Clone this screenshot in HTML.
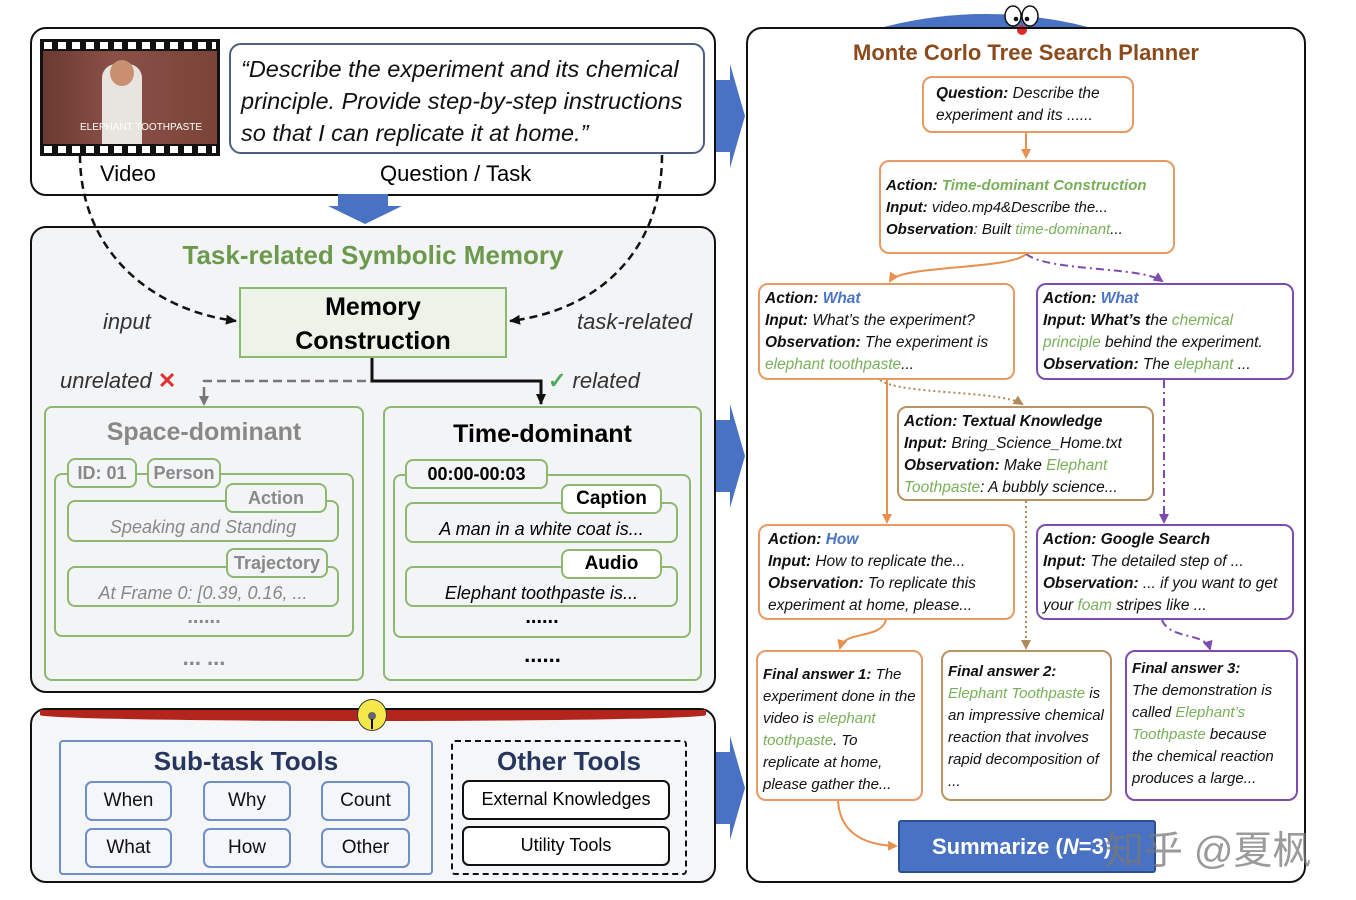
<!DOCTYPE html>
<html><head><meta charset="utf-8"><style>
body{margin:0;width:1356px;height:900px;background:#fff;position:relative;overflow:hidden;font-family:"Liberation Sans",sans-serif}
.a{position:absolute;box-sizing:border-box}
.pan{border:2.5px solid #111;border-radius:16px}
.g{border:2.5px solid #8db86f;border-radius:8px}
.tn{font-size:15.5px;font-style:italic;line-height:22px;padding:3px 5px;border-radius:10px;border:2px solid;background:#fff;color:#111;white-space:normal}
.tn b{font-weight:bold}
.o{border-color:#e89a62}.p{border-color:#7e4cae}.br{border-color:#b89464}
.gr{color:#78b05a}.bl{color:#4a74c4;font-weight:bold}
.btn{border:2px solid #6f8fc7;border-radius:7px;background:#f4f6fb;font-size:19px;text-align:center;line-height:36px;color:#111}
.ob{border:2px solid #111;border-radius:7px;background:#fff;font-size:19px;text-align:center;line-height:35px}
.gl{color:#888}
</style></head><body>
<!-- top-left panel -->
<div class="a pan" style="left:30px;top:27px;width:686px;height:169px"></div>
<div class="a" style="left:40px;top:39px;width:180px;height:117px;background:#111"></div>
<div class="a" style="left:43px;top:51px;width:174px;height:93px;background:linear-gradient(90deg,#6a3a30,#8a5048 40%,#7a4438)"></div>
<div class="a" style="left:44px;top:42px;width:172px;height:7px;background:repeating-linear-gradient(90deg,#fff 0 8px,#111 8px 14px)"></div>
<div class="a" style="left:44px;top:146px;width:172px;height:7px;background:repeating-linear-gradient(90deg,#fff 0 8px,#111 8px 14px)"></div>
<div class="a" style="left:102px;top:64px;width:40px;height:80px;background:#e8e4e0;border-radius:14px 14px 0 0"></div>
<div class="a" style="left:110px;top:60px;width:24px;height:26px;background:#c89070;border-radius:50%"></div>
<div class="a" style="left:80px;top:122px;font-size:10px;color:#fff">ELEPHANT TOOTHPASTE</div>
<div class="a" style="left:229px;top:43px;width:476px;height:111px;border:2px solid #4d5f80;border-radius:12px;font-style:italic;font-size:23.5px;line-height:32px;padding:8px 10px;color:#111">“Describe the experiment and its chemical principle. Provide step-by-step instructions so that I can replicate it at home.”</div>
<div class="a" style="left:100px;top:161px;font-size:22px">Video</div>
<div class="a" style="left:380px;top:161px;font-size:22px">Question / Task</div>
<!-- down arrow -->
<svg class="a" style="left:320px;top:194px" width="86" height="32"><path d="M18 0h50v12h14l-37 18-37-18h10z" fill="#4a72c4"/></svg>
<!-- middle panel -->
<div class="a pan" style="left:30px;top:226px;width:686px;height:467px;background:#f3f4f6"></div>
<div class="a" style="left:30px;top:240px;width:686px;text-align:center;font-size:26px;font-weight:bold;color:#6c9a4c">Task-related Symbolic Memory</div>
<div class="a" style="left:239px;top:287px;width:268px;height:71px;border:2.5px solid #8db86f;background:#eef3e8;text-align:center;font-size:25px;font-weight:bold;line-height:34px;padding-top:1px">Memory<br>Construction</div>
<div class="a" style="left:103px;top:309px;font-size:22px;font-style:italic;color:#333">input</div>
<div class="a" style="left:577px;top:309px;font-size:22px;font-style:italic;color:#333">task-related</div>
<div class="a" style="left:60px;top:368px;font-size:22px;font-style:italic;color:#333">unrelated <span style="color:#e03030;font-style:normal;font-weight:bold">✕</span></div>
<div class="a" style="left:548px;top:368px;font-size:22px;font-style:italic;color:#333"><span style="color:#4caa5a;font-style:normal;font-weight:bold">✓</span> related</div>
<svg class="a" style="left:0;top:0" width="1356" height="900">
<defs><marker id="m" markerUnits="userSpaceOnUse" markerWidth="12" markerHeight="12" refX="10" refY="6" orient="auto"><path d="M0 1L11 6L0 11z" fill="#111"/></marker>
<marker id="mg" markerUnits="userSpaceOnUse" markerWidth="10" markerHeight="10" refX="8" refY="5" orient="auto"><path d="M0 0L10 5L0 10z" fill="#777"/></marker>
<marker id="mo" markerUnits="userSpaceOnUse" markerWidth="10" markerHeight="10" refX="8" refY="5" orient="auto"><path d="M0 0L10 5L0 10z" fill="#e8904e"/></marker>
<marker id="mp" markerUnits="userSpaceOnUse" markerWidth="10" markerHeight="10" refX="8" refY="5" orient="auto"><path d="M0 0L10 5L0 10z" fill="#7e4cae"/></marker>
<marker id="mb" markerUnits="userSpaceOnUse" markerWidth="10" markerHeight="10" refX="8" refY="5" orient="auto"><path d="M0 0L10 5L0 10z" fill="#b08a5a"/></marker></defs>
<path d="M80 155 C 80 250,150 310,236 321" stroke="#111" stroke-width="2.5" fill="none" stroke-dasharray="8 5" marker-end="url(#m)"/>
<path d="M662 155 C 662 250,600 310,510 321" stroke="#111" stroke-width="2.5" fill="none" stroke-dasharray="8 5" marker-end="url(#m)"/>
<path d="M372 358V381H541V404" stroke="#111" stroke-width="3" fill="none" marker-end="url(#m)"/>
<path d="M366 381H204V404" stroke="#777" stroke-width="2.5" fill="none" stroke-dasharray="9 5" marker-end="url(#mg)"/>
<!-- tree connectors -->
<path d="M1026 133V157" stroke="#e8904e" stroke-width="2" marker-end="url(#mo)"/>
<path d="M1026 254C1010 270,900 265,890 281" stroke="#e8904e" stroke-width="2" fill="none" marker-end="url(#mo)"/>
<path d="M1026 254C1050 272,1140 266,1162 281" stroke="#7e4cae" stroke-width="2" fill="none" stroke-dasharray="8 4 2 4" marker-end="url(#mp)"/>
<path d="M887 380V522" stroke="#e8904e" stroke-width="2" marker-end="url(#mo)"/>
<path d="M880 380C900 395,1000 390,1022 404" stroke="#b08a5a" stroke-width="2" fill="none" stroke-dasharray="2 3" marker-end="url(#mb)"/>
<path d="M1164 380V522" stroke="#7e4cae" stroke-width="2" stroke-dasharray="8 4 2 4" marker-end="url(#mp)"/>
<path d="M1026 501V648" stroke="#b08a5a" stroke-width="2" stroke-dasharray="2 3" marker-end="url(#mb)"/>
<path d="M886 620C880 640,845 630,840 648" stroke="#e8904e" stroke-width="2" fill="none" marker-end="url(#mo)"/>
<path d="M1162 620C1170 640,1205 632,1210 649" stroke="#7e4cae" stroke-width="2" fill="none" stroke-dasharray="8 4 2 4" marker-end="url(#mp)"/>
<path d="M838 801C840 830,860 845,896 846" stroke="#e8904e" stroke-width="2" fill="none" marker-end="url(#mo)"/>
<!-- right arrows -->
<path d="M716 80h14v-16l15 52-15 52v-16h-14z" fill="#4a72c4"/>
<path d="M716 420h14v-16l15 52-15 52v-16h-14z" fill="#4a72c4"/>
<path d="M716 752h14v-16l15 52-15 52v-16h-14z" fill="#4a72c4"/>
<!-- dome -->
<path d="M880 28Q985 0 1092 28z" fill="#4a72c4"/>
<ellipse cx="1013" cy="16" rx="8" ry="10" fill="#fff" stroke="#111" stroke-width="1.5"/>
<ellipse cx="1030" cy="16" rx="8" ry="10" fill="#fff" stroke="#111" stroke-width="1.5"/>
<circle cx="1016" cy="19" r="2.3" fill="#111"/><circle cx="1027" cy="19" r="2.3" fill="#111"/>
<circle cx="1022" cy="30" r="5" fill="#e02a2a"/>
</svg>
<!-- space / time boxes -->
<div class="a g" style="left:44px;top:406px;width:320px;height:275px"></div>
<div class="a" style="left:44px;top:418px;width:320px;text-align:center;font-size:25px;font-weight:bold;color:#888">Space-dominant</div>
<div class="a g" style="left:54px;top:473px;width:300px;height:164px;border-width:2px"></div>
<div class="a g gl" style="left:67px;top:458px;width:70px;height:30px;border-width:2px;background:#f3f4f6;font-size:18px;font-weight:bold;text-align:center;line-height:26px">ID: 01</div>
<div class="a g gl" style="left:147px;top:458px;width:74px;height:30px;border-width:2px;background:#f3f4f6;font-size:18px;font-weight:bold;text-align:center;line-height:26px">Person</div>
<div class="a g gl" style="left:67px;top:500px;width:272px;height:42px;border-width:2px;font-size:18px;font-style:italic;text-align:center;padding-top:15px">Speaking and Standing</div>
<div class="a g gl" style="left:225px;top:483px;width:102px;height:30px;border-width:2px;background:#f3f4f6;font-size:18px;font-weight:bold;text-align:center;line-height:26px">Action</div>
<div class="a g gl" style="left:67px;top:566px;width:272px;height:41px;border-width:2px;font-size:18px;font-style:italic;text-align:center;padding-top:15px">At Frame 0: [0.39, 0.16, ...</div>
<div class="a g gl" style="left:226px;top:548px;width:102px;height:30px;border-width:2px;background:#f3f4f6;font-size:18px;font-weight:bold;text-align:center;line-height:26px">Trajectory</div>
<div class="a gl" style="left:54px;top:606px;width:300px;text-align:center;font-size:20px;font-weight:bold">......</div>
<div class="a gl" style="left:44px;top:645px;width:320px;text-align:center;font-size:22px;font-weight:bold">... ...</div>

<div class="a g" style="left:383px;top:406px;width:319px;height:275px"></div>
<div class="a" style="left:383px;top:420px;width:319px;text-align:center;font-size:25px;font-weight:bold">Time-dominant</div>
<div class="a g" style="left:393px;top:474px;width:298px;height:164px;border-width:2px"></div>
<div class="a g" style="left:405px;top:502px;width:273px;height:41px;border-width:2px;font-size:18px;font-style:italic;text-align:center;padding-top:15px">A man in a white coat is...</div>
<div class="a g" style="left:405px;top:459px;width:143px;height:30px;border-width:2px;background:#f3f4f6;font-size:18px;font-weight:bold;text-align:center;line-height:26px">00:00-00:03</div>
<div class="a g" style="left:561px;top:484px;width:101px;height:30px;border-width:2px;background:#fff;font-size:19px;font-weight:bold;text-align:center;line-height:26px">Caption</div>
<div class="a g" style="left:405px;top:566px;width:273px;height:41px;border-width:2px;font-size:18px;font-style:italic;text-align:center;padding-top:15px">Elephant toothpaste is...</div>
<div class="a g" style="left:561px;top:549px;width:101px;height:30px;border-width:2px;background:#fff;font-size:19px;font-weight:bold;text-align:center;line-height:26px">Audio</div>
<div class="a" style="left:393px;top:606px;width:298px;text-align:center;font-size:20px;font-weight:bold">......</div>
<div class="a" style="left:383px;top:642px;width:319px;text-align:center;font-size:22px;font-weight:bold">......</div>

<!-- bottom-left -->
<div class="a pan" style="left:30px;top:708px;width:686px;height:175px;background:#f5f6f8"></div>
<div class="a" style="left:40px;top:710px;width:666px;height:11px;background:#b3251c;border-radius:0 0 50% 50%/0 0 6px 6px"></div>
<div class="a" style="left:357px;top:699px;width:30px;height:32px;border-radius:50%;background:#f6e84a;border:1.5px solid #333"></div>
<div class="a" style="left:368px;top:712px;width:8px;height:8px;border-radius:50%;background:#666"></div>
<div class="a" style="left:371px;top:719px;width:2px;height:10px;background:#111"></div>
<div class="a" style="left:59px;top:740px;width:374px;height:135px;border:2.5px solid #6f8fc7;border-radius:4px"></div>
<div class="a" style="left:59px;top:746px;width:374px;text-align:center;font-size:26px;font-weight:bold;color:#26365e">Sub-task Tools</div>
<div class="a btn" style="left:85px;top:781px;width:87px;height:40px">When</div>
<div class="a btn" style="left:203px;top:781px;width:88px;height:40px">Why</div>
<div class="a btn" style="left:321px;top:781px;width:89px;height:40px">Count</div>
<div class="a btn" style="left:85px;top:828px;width:87px;height:40px">What</div>
<div class="a btn" style="left:203px;top:828px;width:88px;height:40px">How</div>
<div class="a btn" style="left:321px;top:828px;width:89px;height:40px">Other</div>
<div class="a" style="left:451px;top:740px;width:236px;height:135px;border:2.5px dashed #111;border-radius:4px"></div>
<div class="a" style="left:451px;top:746px;width:236px;text-align:center;font-size:26px;font-weight:bold;color:#26365e">Other Tools</div>
<div class="a ob" style="left:462px;top:780px;width:208px;height:40px;font-size:18px">External Knowledges</div>
<div class="a ob" style="left:462px;top:826px;width:208px;height:40px;font-size:18px">Utility Tools</div>

<!-- right panel -->
<div class="a pan" style="left:746px;top:27px;width:560px;height:856px"></div>
<div class="a" style="left:746px;top:40px;width:560px;text-align:center;font-size:22px;font-weight:bold;color:#8a4a1c">Monte Corlo Tree Search Planner</div>
<div class="a tn o" style="left:922px;top:76px;width:212px;height:57px;padding:5px 12px"><b>Question:</b> Describe the experiment and its ......</div>
<div class="a tn o" style="left:879px;top:160px;width:296px;height:94px;padding-top:13px;font-size:15px"><b>Action: <span class="gr">Time-dominant Construction</span></b><br><b>Input:</b> video.mp4&amp;Describe the...<br><b>Observation</b>: Built <span class="gr">time-dominant</span>...</div>
<div class="a tn o" style="left:758px;top:283px;width:257px;height:97px;padding-top:3px"><b>Action: <span class="bl">What</span></b><br><b>Input:</b> What’s the experiment?<br><b>Observation:</b> The experiment is <span class="gr">elephant toothpaste</span>...</div>
<div class="a tn p" style="left:1036px;top:283px;width:258px;height:97px;padding-top:3px"><b>Action: <span class="bl">What</span></b><br><b>Input: What’s t</b>he <span class="gr">chemical principle</span> behind the experiment.<br><b>Observation:</b> The <span class="gr">elephant</span> ...</div>
<div class="a tn br" style="left:897px;top:406px;width:257px;height:95px;padding-top:3px"><b>Action: Textual Knowledge</b><br><b>Input:</b> Bring_Science_Home.txt<br><b>Observation:</b> Make <span class="gr">Elephant Toothpaste</span>: A bubbly science...</div>
<div class="a tn o" style="left:758px;top:524px;width:257px;height:96px;padding-top:3px;padding-left:8px"><b>Action: <span class="bl">How</span></b><br><b>Input:</b> How to replicate the...<br><b>Observation:</b> To replicate this experiment at home, please...</div>
<div class="a tn p" style="left:1036px;top:524px;width:258px;height:96px;padding-top:3px"><b>Action: Google Search</b><br><b>Input:</b> The detailed step of ...<br><b>Observation:</b> ... if you want to get your <span class="gr">foam</span> stripes like ...</div>
<div class="a tn o" style="left:756px;top:650px;width:167px;height:151px;padding-top:12px;font-size:15px"><b>Final answer 1:</b> The experiment done in the video is <span class="gr">elephant toothpaste</span>. To replicate at home, please gather the...</div>
<div class="a tn br" style="left:941px;top:650px;width:171px;height:151px;padding-top:9px;font-size:15px"><b>Final answer 2:</b><br><span class="gr">Elephant Toothpaste</span> is an impressive chemical reaction that involves rapid decomposition of ...</div>
<div class="a tn p" style="left:1125px;top:650px;width:173px;height:151px;padding-top:6px;font-size:15px"><b>Final answer 3:</b><br>The demonstration is called <span class="gr">Elephant’s Toothpaste</span> because the chemical reaction produces a large...</div>
<div class="a" style="left:898px;top:820px;width:258px;height:53px;background:#4a72c4;border:2px solid #2d4f94;border-radius:3px;color:#fff;font-size:22px;font-weight:bold;line-height:49px;padding-left:32px">Summarize (<i>N</i>=3)</div>
<div class="a" style="left:1105px;top:820px;font-size:39px;color:rgba(120,120,120,0.75);font-family:'Liberation Sans','Noto Sans CJK SC',sans-serif">知乎 @夏枫</div>
</body></html>
